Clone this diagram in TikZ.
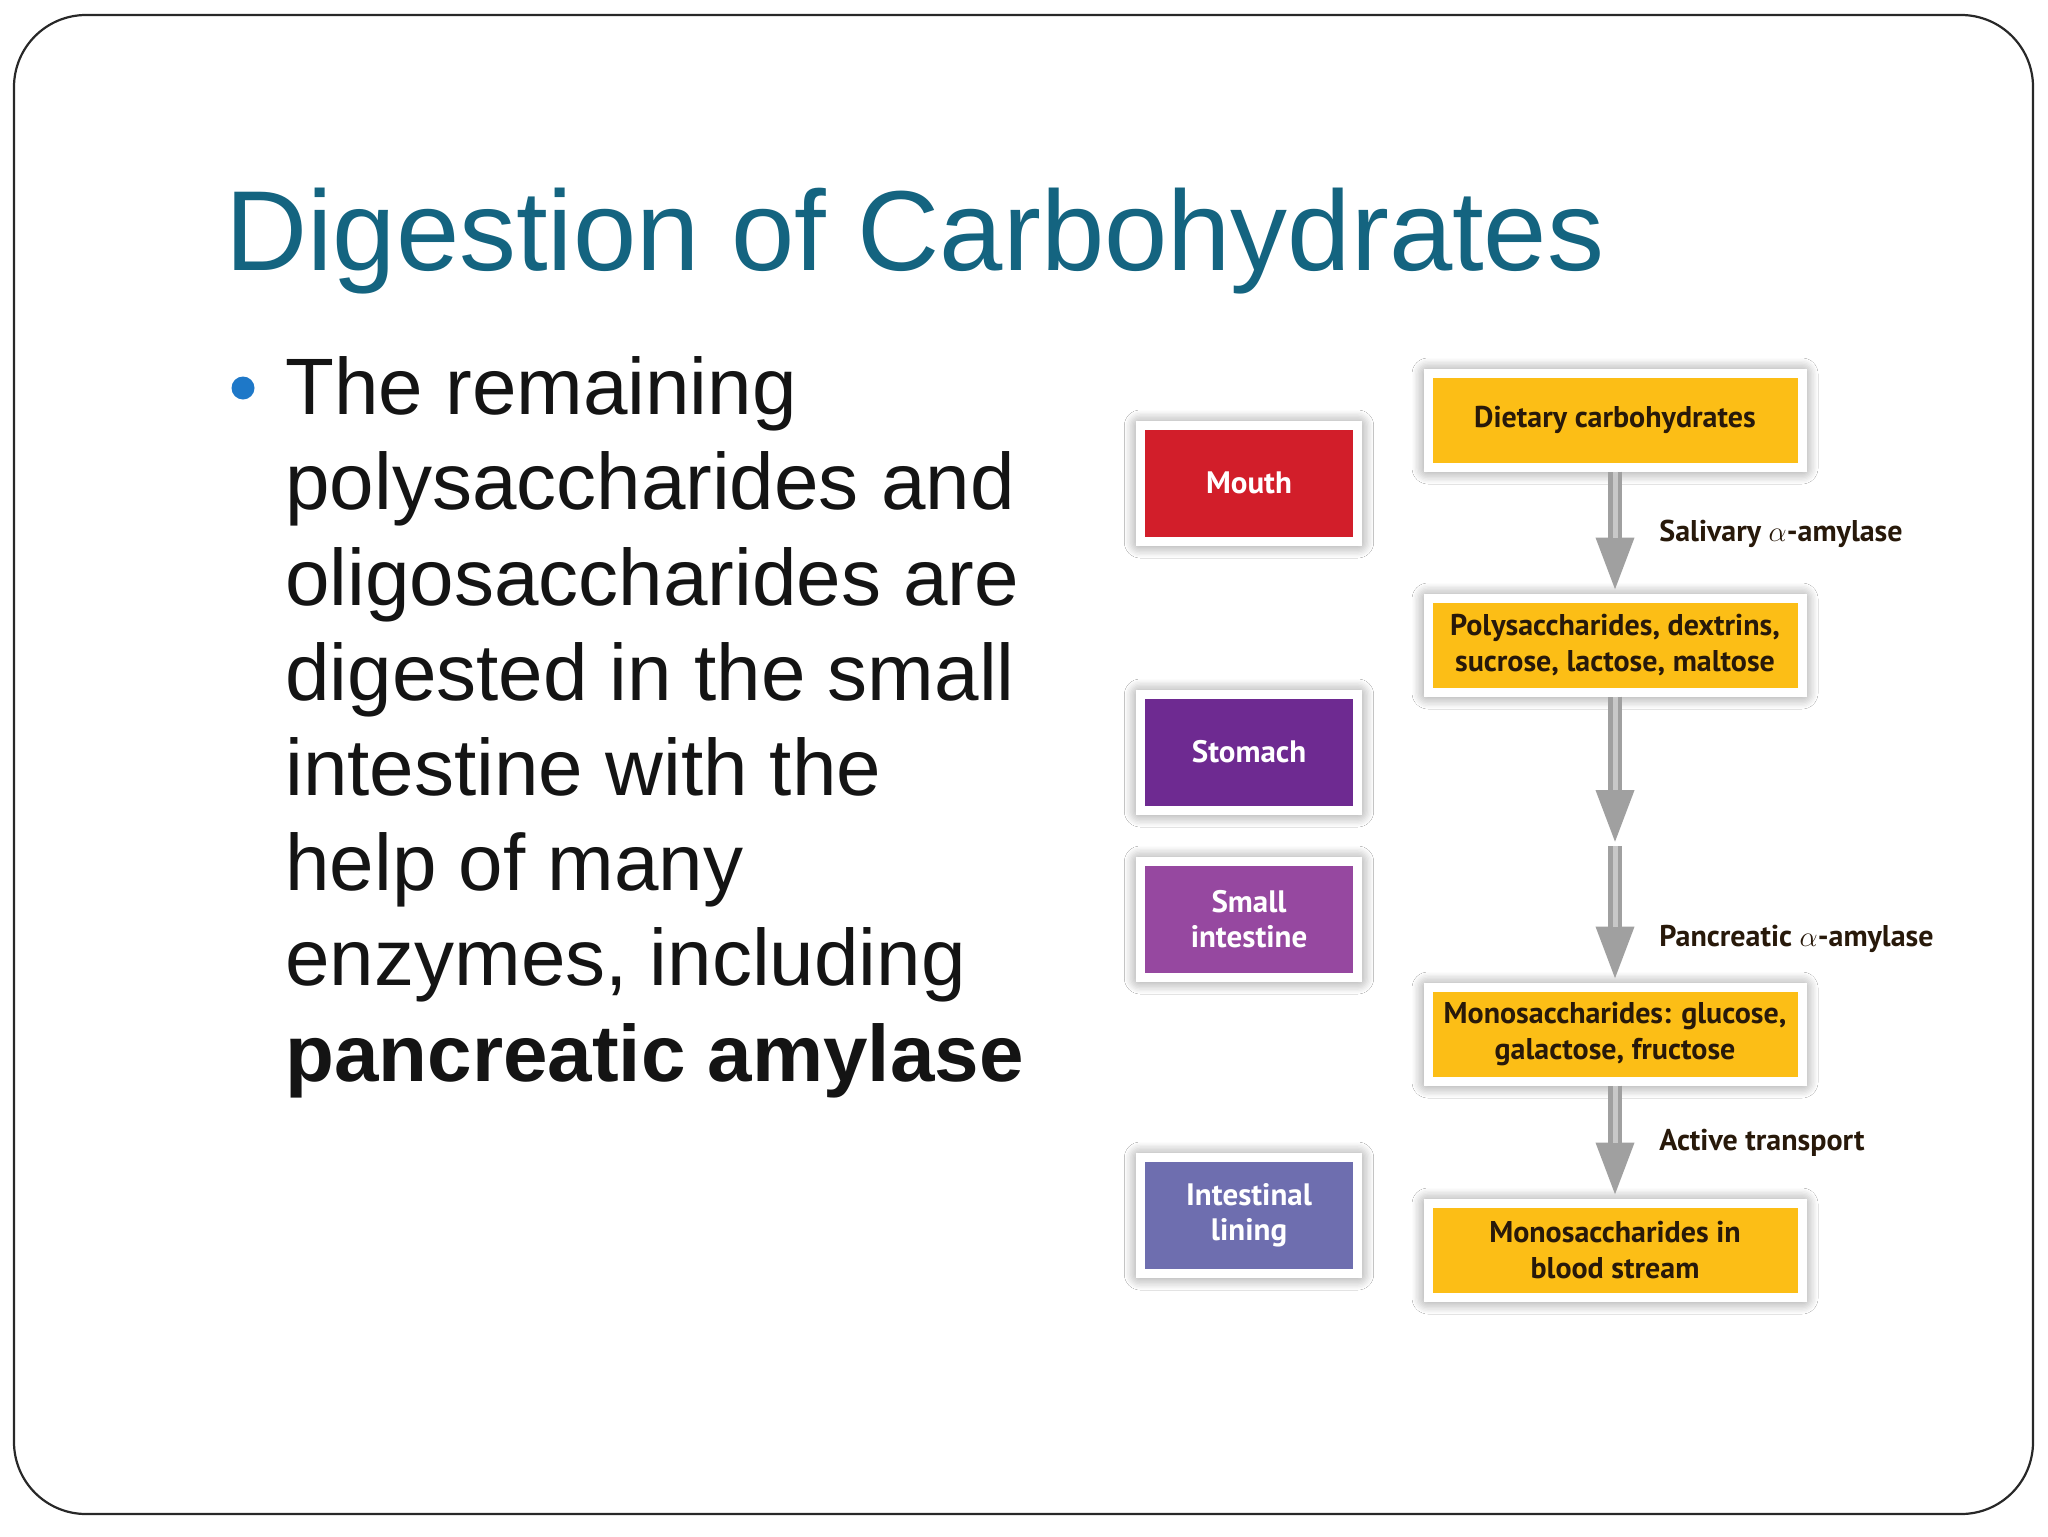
\documentclass[tikz,border=0pt]{standalone}
\usepackage{fontspec}
\setmainfont{Liberation Sans}
\newfontfamily\boxfont{PT Sans}
\usetikzlibrary{arrows.meta,shadows.blur}
\definecolor{titleteal}{RGB}{20,100,128}
\definecolor{bodyblack}{RGB}{20,20,20}
\definecolor{bulletblue}{RGB}{30,120,200}
\definecolor{framegray}{RGB}{40,40,40}
\definecolor{mouthred}{RGB}{210,30,42}
\definecolor{stomachpurple}{RGB}{110,42,145}
\definecolor{smallpurple}{RGB}{150,72,160}
\definecolor{liningblue}{RGB}{110,110,175}
\definecolor{boxyellow}{RGB}{252,190,22}
\definecolor{boxtext}{RGB}{40,25,10}
\definecolor{arrowgray}{RGB}{160,160,160}
\definecolor{arrowlight}{RGB}{200,200,200}
\tikzset{
  softshadow/.style={blur shadow={shadow xshift=0pt, shadow yshift=-0.5pt, shadow scale=1.0, shadow blur radius=8pt, shadow blur steps=12, shadow opacity=60}},
  organ/.style={softshadow, draw=white, line width=4.5pt, minimum width=108.7pt, minimum height=58pt,
    inner sep=0pt, text=white, align=center, font=\boxfont\bfseries\fontsize{15.5}{17.6}\selectfont},
  stage/.style={softshadow, draw=white, line width=4.5pt, fill=boxyellow, minimum width=187pt, minimum height=47pt,
    inner sep=0pt, text=boxtext, align=center, font=\boxfont\bfseries\fontsize{15}{17.6}\selectfont},
  enzyme/.style={anchor=west, inner sep=0pt, text=boxtext, font=\boxfont\bfseries\fontsize{15}{17}\selectfont},
  flow/.style={draw=arrowgray, line width=7pt, -{Triangle[length=28pt,width=17pt]},
    postaction={draw=arrowlight, line width=2.5pt, -, shorten >=28pt}}
}
\begin{document}
\begin{tikzpicture}[x=0.5pt,y=-0.5pt]
\useasboundingbox (0,0) rectangle (2048,1536);
\fill[white] (0,0) rectangle (2048,1536);
\draw[framegray, line width=1.1pt, rounded corners=36pt] (14,15) rectangle (2033,1514);

\node[anchor=base west, inner sep=0pt, text=titleteal, font=\fontsize{56.9}{60}\selectfont] (title) at (225,270) {Digestion of Carbohydrates};

\node[circle, fill=bulletblue, minimum size=11.5pt, inner sep=0pt] (bullet) at (243,388) {};
\node[anchor=base west, inner sep=0pt, text=bodyblack, align=left, font=\fontsize{40}{47.6}\selectfont] (body) at (285,1081)
  {The remaining\\polysaccharides and\\oligosaccharides are\\digested in the small\\intestine with the\\help of many\\enzymes, including\\\textbf{pancreatic amylase}};

\node[organ, fill=mouthred] (mouth) at (1249,483) {Mouth};
\node[organ, fill=stomachpurple] (stomach) at (1249,752) {Stomach};
\node[organ, fill=smallpurple] (small) at (1249,919) {Small\\intestine};
\node[organ, fill=liningblue] (lining) at (1249,1215) {Intestinal\\lining};

\node[stage] (diet) at (1615,420) {Dietary carbohydrates};
\node[stage] (poly) at (1615,645) {Polysaccharides, dextrins,\\sucrose, lactose, maltose};
\node[stage] (mono) at (1615,1034) {Monosaccharides: glucose,\\galactose, fructose};
\node[stage] (blood) at (1615,1250) {Monosaccharides in\\blood stream};

\coordinate (mid) at (1615,846);
\draw[flow] (diet) -- (poly);
\draw[flow] (poly) -- (mid);
\draw[flow] (mid) -- (mono);
\draw[flow] (mono) -- (blood);

\node[enzyme] (salivary) at (1659,534) {Salivary $\alpha$-amylase};
\node[enzyme] (pancreatic) at (1659,939) {Pancreatic $\alpha$-amylase};
\node[enzyme] (active) at (1659,1143) {Active transport};
\end{tikzpicture}
\end{document}
